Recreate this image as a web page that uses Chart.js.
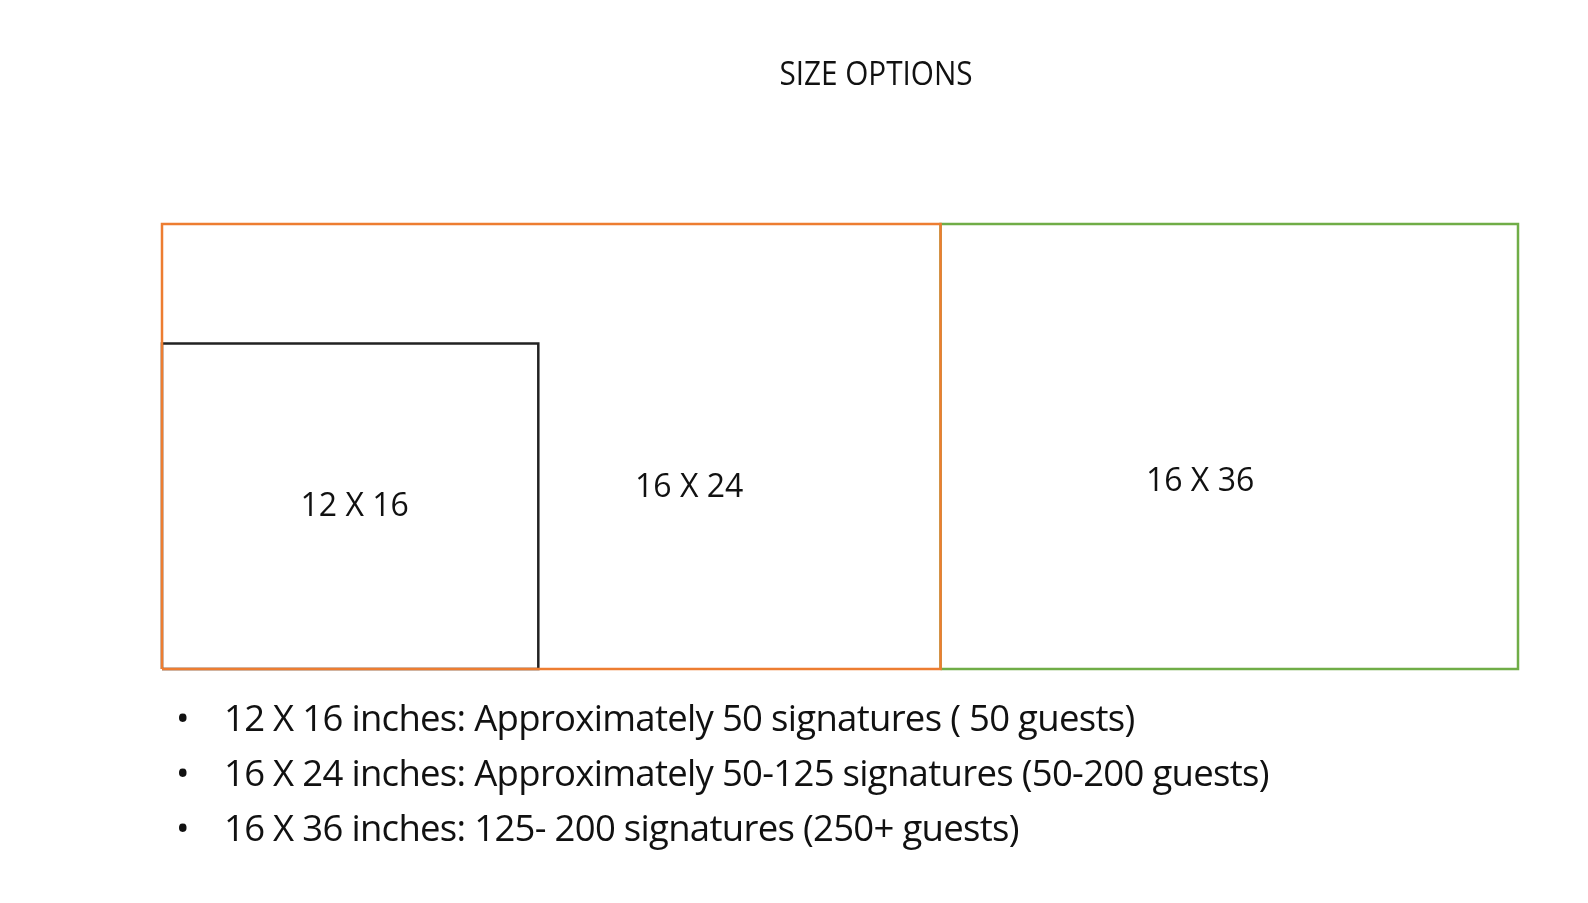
<!DOCTYPE html>
<html><head><meta charset="utf-8">
<script src="https://cdn.jsdelivr.net/npm/chart.js@4/dist/chart.umd.min.js"></script>
<style>
html,body{margin:0;padding:0;background:#fff;overflow:hidden}
#wrap{position:relative;width:1588px;height:903px}
canvas{position:absolute;left:0;top:0}
#title{position:absolute;top:50px;left:0;width:1752px;text-align:center;font-family:"Open Sans",sans-serif;font-size:33px;color:#111;transform:scaleX(0.9);transform-origin:876px 0}
#list{position:absolute;left:176px;top:690px;font-family:"Open Sans",sans-serif;font-size:36.5px;color:#111;margin:0;padding:0;list-style:none;letter-spacing:-0.7px}
#list li{height:55px;line-height:55px;white-space:nowrap}
#list li span.b{display:inline-block;width:48px;font-size:36px}
</style></head><body>
<div id="wrap">
<canvas id="c" width="1588" height="903"></canvas>
<div id="title">SIZE OPTIONS</div>
<ul id="list"></ul>
</div>
<script>
const categories = ["12 X 16", "16 X 24", "16 X 36"];
const rectX0 = [0, 0, 24];
const rectX1 = [11.6, 24, 41.8];
const rectY0 = [0, 0, 0];
const rectY1 = [11.7, 16, 16];
const labelX = [5.94, 16.25, 32.0];
const labelY = [5.83, 6.52, 6.74];
const colors = ["#222222", "#ED7D31", "#70AD47"];
const bullets = [
 "12 X 16 inches: Approximately 50 signatures ( 50 guests)",
 "16 X 24 inches: Approximately 50-125 signatures (50-200 guests)",
 "16 X 36 inches: 125- 200 signatures (250+ guests)"
];
const ul=document.getElementById('list');
bullets.forEach(t=>{const li=document.createElement('li');li.innerHTML='<span class="b">•</span>'+t;ul.appendChild(li);});

const order=[1,2,0];
const datasets=order.map(i=>({
  label:categories[i],
  data:[{x:rectX0[i],y:rectY0[i]},{x:rectX1[i],y:rectY0[i]},{x:rectX1[i],y:rectY1[i]},{x:rectX0[i],y:rectY1[i]},{x:rectX0[i],y:rectY0[i]}],
  showLine:true,borderColor:colors[i],borderWidth:2.5,pointRadius:0,fill:false,tension:0,clip:false
}));
const labelPlugin={id:'lbl',afterDatasetsDraw(ch){
  const c=ch.ctx,xs=ch.scales.x,ys=ch.scales.y;
  c.save();c.fillStyle='#111';c.font='32px "Open Sans", sans-serif';c.textAlign='center';c.textBaseline='middle';
  categories.forEach((t,i)=>c.fillText(t,xs.getPixelForValue(labelX[i]),ys.getPixelForValue(labelY[i])));
  c.restore();
}};
new Chart(document.getElementById('c'),{
  type:'scatter',
  data:{datasets},
  options:{responsive:false,animation:false,
    layout:{padding:{left:162,right:70,top:224,bottom:234}},
    plugins:{legend:{display:false},tooltip:{enabled:false},title:{display:false}},
    scales:{x:{type:'linear',min:0,max:41.8,display:false},y:{type:'linear',min:0,max:16,display:false}}
  },
  plugins:[labelPlugin]
});
</script>
</body></html>
